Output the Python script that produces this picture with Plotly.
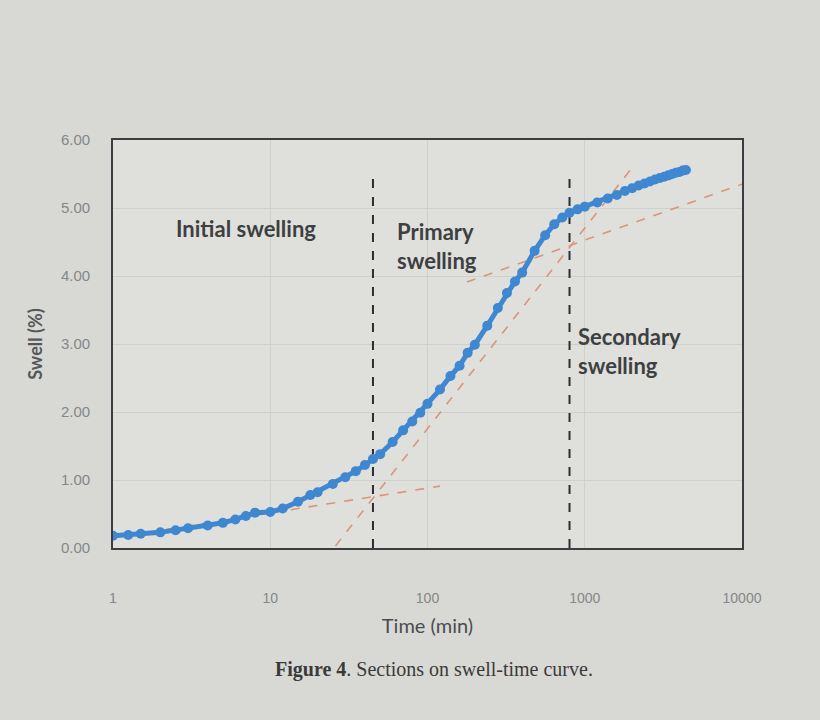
import math
import plotly.graph_objects as go

# --- data ---
time_min = [1, 1.25, 1.5, 2, 2.5, 3, 4, 5, 6, 7, 8, 10, 12, 15, 18, 20, 25, 30, 35, 40,
            45, 50, 60, 70, 80, 90, 100, 120, 140, 160, 180, 200, 240, 280, 320, 360,
            400, 480, 560, 640, 720, 800, 900, 1000, 1200, 1400, 1600, 1800, 2000,
            2200, 2400, 2600, 2800, 3000, 3200, 3400, 3600, 3800, 4000, 4200, 4400]
swell_pct = [0.18, 0.19, 0.21, 0.23, 0.26, 0.29, 0.33, 0.37, 0.42, 0.47, 0.52, 0.53, 0.58,
             0.68, 0.78, 0.82, 0.94, 1.04, 1.13, 1.22, 1.31, 1.38, 1.56, 1.73, 1.86, 1.99,
             2.12, 2.33, 2.53, 2.68, 2.87, 2.99, 3.27, 3.53, 3.75, 3.92, 4.05, 4.37, 4.60,
             4.76, 4.86, 4.93, 4.98, 5.02, 5.08, 5.14, 5.19, 5.25, 5.29, 5.33, 5.36, 5.39,
             5.42, 5.44, 5.46, 5.48, 5.50, 5.52, 5.53, 5.55, 5.56]

initial_tangent_t = [1, 120]
initial_tangent_s = [0.15, 0.91]
primary_tangent_t = [26, 1950]
primary_tangent_s = [0.03, 5.56]
secondary_tangent_t = [178, 10000]
secondary_tangent_s = [3.91, 5.35]

boundary_times = [45, 800]
boundary_top = 5.55

y_ticks = [0, 1, 2, 3, 4, 5, 6]
x_ticks = [1, 10, 100, 1000, 10000]
x_ticktext = ["1", "10", "100", "1000", "10000"]

region_labels = ["Initial swelling", "Primary<br>swelling", "Secondary<br>swelling"]
region_x = [7, 62, 880]
region_y = [4.7, 4.44, 2.9]
region_anchor = ["center", "left", "left"]

BLUE = "#3f87d0"
ORANGE = "#d9957a"
TXT = "#3d3f42"

fig = go.Figure()

for tt, ss in [(initial_tangent_t, initial_tangent_s),
               (primary_tangent_t, primary_tangent_s),
               (secondary_tangent_t, secondary_tangent_s)]:
    fig.add_trace(go.Scatter(x=tt, y=ss, mode="lines",
                             line=dict(color=ORANGE, width=1.6, dash="dash"),
                             showlegend=False, hoverinfo="skip"))

for bt in boundary_times:
    fig.add_trace(go.Scatter(x=[bt, bt], y=[0, boundary_top], mode="lines",
                             line=dict(color="#2b2e33", width=2, dash="dash"),
                             showlegend=False, hoverinfo="skip"))

fig.add_trace(go.Scatter(x=time_min, y=swell_pct, mode="lines+markers",
                         line=dict(color=BLUE, width=5),
                         marker=dict(color=BLUE, size=10),
                         showlegend=False))

for txt, xx, yy, anc in zip(region_labels, region_x, region_y, region_anchor):
    fig.add_annotation(x=math.log10(xx), y=yy, xref="x", yref="y",
                       text="<b>" + txt + "</b>",
                       showarrow=False, xanchor=anc, align="left",
                       font=dict(family="Lato", size=22, color=TXT))

fig.add_annotation(x=0.51, y=-0.33, xref="paper", yref="paper",
                   text="<b>Figure 4</b>. Sections on swell-time curve.",
                   showarrow=False, xanchor="center",
                   font=dict(family="Liberation Serif", size=20, color="#3a3a3a"))

fig.update_xaxes(type="log", range=[0, 4], tickvals=x_ticks, ticktext=x_ticktext,
                 showline=True, linecolor="#3a3d42", linewidth=1.6, mirror=True,
                 showgrid=True, gridcolor="#cfd0cb", gridwidth=1,
                 ticks="", ticklabelstandoff=36,
                 tickfont=dict(family="Liberation Sans", size=14, color="#85878a"),
                 title=dict(text="Time (min)", standoff=14,
                            font=dict(family="Lato", size=20, color="#4a4c50")),
                 zeroline=False)
fig.update_yaxes(range=[0, 6], tickvals=y_ticks, tickformat=".2f",
                 showline=True, linecolor="#3a3d42", linewidth=1.6, mirror=True,
                 showgrid=True, gridcolor="#cfd0cb", gridwidth=1,
                 ticks="", ticklabelstandoff=18,
                 tickfont=dict(family="Liberation Sans", size=15, color="#85878a"),
                 title=dict(text="<b>Swell (%)</b>", standoff=14,
                            font=dict(family="Lato", size=18, color="#55575b")),
                 zeroline=False)

fig.update_layout(width=820, height=720,
                  margin=dict(l=113, r=78, t=140, b=172),
                  paper_bgcolor="#d8d9d4", plot_bgcolor="#dfe0db",
                  showlegend=False)

fig.write_html("out.html")
